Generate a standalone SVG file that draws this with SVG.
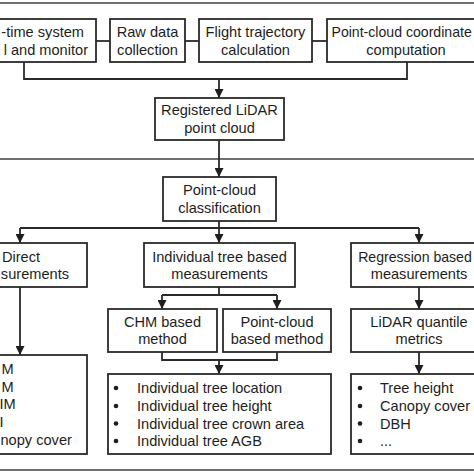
<svg xmlns="http://www.w3.org/2000/svg" width="474" height="474" viewBox="0 0 474 474">
<style>
.box{fill:#fff;stroke:#2a2a2a;stroke-width:1.8}
.ln{fill:none;stroke:#2a2a2a;stroke-width:1.8}
.sep{stroke:#707070;stroke-width:2}
text{font-family:"Liberation Sans",Arial,sans-serif;font-size:14.6px;fill:#1e1e1e}
.c{text-anchor:middle}
.e{text-anchor:end}
.s{font-size:14.1px}
.bul{fill:#1e1e1e}
</style>
<defs>
<marker id="ar" viewBox="0 0 10 10" refX="10" refY="5" markerWidth="9" markerHeight="9" markerUnits="userSpaceOnUse" orient="auto">
<path d="M0,0 L10,5 L0,10 z" fill="#1e1e1e"/>
</marker>
</defs>
<rect width="474" height="474" fill="#fff"/>
<g id="separators">
<line class="sep" x1="0" y1="3" x2="474" y2="3"/>
<line class="sep" x1="0" y1="159" x2="474" y2="159"/>
<line class="sep" x1="0" y1="470" x2="474" y2="470"/>
</g>
<g id="connectors">
<line class="ln" x1="96" y1="41" x2="110" y2="41"/>
<line class="ln" x1="185" y1="41" x2="199" y2="41"/>
<line class="ln" x1="312" y1="41" x2="327" y2="41"/>
<polyline class="ln" points="24,62 24,79 407,79 407,62"/>
<line class="ln" x1="219" y1="79" x2="219" y2="98" marker-end="url(#ar)"/>
<line class="ln" x1="219" y1="140" x2="219" y2="177" marker-end="url(#ar)"/>
<line class="ln" x1="219" y1="221" x2="219" y2="228"/>
<line class="ln" x1="20" y1="228" x2="419" y2="228"/>
<line class="ln" x1="20" y1="228" x2="20" y2="243" marker-end="url(#ar)"/>
<line class="ln" x1="219" y1="228" x2="219" y2="243" marker-end="url(#ar)"/>
<line class="ln" x1="419" y1="228" x2="419" y2="243" marker-end="url(#ar)"/>
<line class="ln" x1="20" y1="287" x2="20" y2="355" marker-end="url(#ar)"/>
<line class="ln" x1="219" y1="287" x2="219" y2="295"/>
<line class="ln" x1="162" y1="295" x2="277" y2="295"/>
<line class="ln" x1="162" y1="295" x2="162" y2="309" marker-end="url(#ar)"/>
<line class="ln" x1="277" y1="295" x2="277" y2="309" marker-end="url(#ar)"/>
<polyline class="ln" points="162,352 162,360 277,360 277,352"/>
<line class="ln" x1="219" y1="360" x2="219" y2="374" marker-end="url(#ar)"/>
<line class="ln" x1="419" y1="287" x2="419" y2="309" marker-end="url(#ar)"/>
<line class="ln" x1="419" y1="352" x2="419" y2="374" marker-end="url(#ar)"/>
</g>
<g id="n-realtime">
<rect class="box" x="-45" y="19" width="141" height="43"/>
<text class="e" x="84" y="37">-time system</text>
<text class="e" x="88" y="55">l and monitor</text>
</g>
<g id="n-raw">
<rect class="box" x="110" y="19" width="75" height="43"/>
<text class="c" x="147.5" y="37">Raw data</text>
<text class="c" x="147.5" y="55">collection</text>
</g>
<g id="n-flight">
<rect class="box" x="199" y="19" width="113" height="43"/>
<text class="c" x="255.5" y="37">Flight trajectory</text>
<text class="c" x="255.5" y="55">calculation</text>
</g>
<g id="n-coord">
<rect class="box" x="327" y="19" width="160" height="43"/>
<text class="s" x="331.5" y="37">Point-cloud coordinate</text>
<text class="c" x="406" y="55">computation</text>
</g>
<g id="n-registered">
<rect class="box" x="155" y="98" width="129" height="42"/>
<text class="c" x="219.5" y="115">Registered LiDAR</text>
<text class="c" x="219.5" y="132.5">point cloud</text>
</g>
<g id="n-classification">
<rect class="box" x="163" y="177" width="113" height="44"/>
<text class="c" x="219.5" y="195">Point-cloud</text>
<text class="c" x="219.5" y="212.5">classification</text>
</g>
<g id="n-direct">
<rect class="box" x="-45" y="243" width="132" height="44"/>
<text class="c" x="21" y="261.5">Direct</text>
<text class="e" x="69" y="279">surements</text>
</g>
<g id="n-individual">
<rect class="box" x="144" y="243" width="151" height="44"/>
<text class="c" x="219.5" y="261.5">Individual tree based</text>
<text class="c" x="219.5" y="279">measurements</text>
</g>
<g id="n-regression">
<rect class="box" x="351" y="243" width="136" height="44"/>
<text class="c s" x="415" y="261.5">Regression based</text>
<text class="c" x="419" y="279">measurements</text>
</g>
<g id="n-chm">
<rect class="box" x="108" y="309" width="109" height="43"/>
<text class="c" x="162.5" y="326.5">CHM based</text>
<text class="c" x="162.5" y="344">method</text>
</g>
<g id="n-pcbased">
<rect class="box" x="223" y="309" width="108" height="43"/>
<text class="c" x="277" y="326.5">Point-cloud</text>
<text class="c" x="277" y="344">based method</text>
</g>
<g id="n-quantile">
<rect class="box" x="351" y="309" width="136" height="43"/>
<text class="c" x="419" y="326.5">LiDAR quantile</text>
<text class="c" x="419" y="344">metrics</text>
</g>
<g id="n-direct-list">
<rect class="box" x="-45" y="355" width="132" height="99"/>
<text x="1.5" y="373.5">M</text>
<text x="1.5" y="391.5">M</text>
<text x="-0.5" y="409">IM</text>
<text x="-0.5" y="427">I</text>
<text x="0.5" y="444.5">nopy cover</text>
</g>
<g id="n-individual-list">
<rect class="box" x="108" y="374" width="223" height="80"/>
<circle class="bul" cx="116" cy="388" r="2.3"/>
<circle class="bul" cx="116" cy="406" r="2.3"/>
<circle class="bul" cx="116" cy="423.5" r="2.3"/>
<circle class="bul" cx="116" cy="441" r="2.3"/>
<text x="137" y="393">Individual tree location</text>
<text x="137" y="411">Individual tree height</text>
<text x="137" y="428.5">Individual tree crown area</text>
<text x="137" y="446">Individual tree AGB</text>
</g>
<g id="n-regression-list">
<rect class="box" x="351" y="374" width="136" height="80"/>
<circle class="bul" cx="360" cy="388" r="2.3"/>
<circle class="bul" cx="360" cy="406" r="2.3"/>
<circle class="bul" cx="360" cy="423.5" r="2.3"/>
<circle class="bul" cx="360" cy="441" r="2.3"/>
<text x="380" y="393">Tree height</text>
<text x="380" y="411">Canopy cover</text>
<text x="380" y="428.5">DBH</text>
<text x="380" y="446">...</text>
</g>
</svg>
